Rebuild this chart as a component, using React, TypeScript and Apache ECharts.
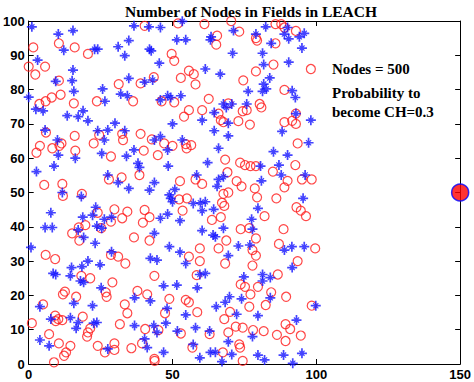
import React, { useEffect, useRef } from "react";
import * as echarts from "echarts";

const titleText = "Number of Nodes in Fields in LEACH";
const noteLines = ["Nodes = 500", "Probability to", "become CH=0.3"];
const xRange = [0, 150];
const yRange = [0, 100];
const xStep = 50;
const yStep = 10;

// blue asterisks
const headNodes: [number, number][] = [
  [1.1,98.3],[10.3,96.2],[15.4,97.2],[12.2,91.5],[3.1,88.6],[15.4,85.7],[9.4,82.4],[15.1,82.6],[15.7,79.5],[0,77.8],
  [2.5,74.3],[5,73.8],[18.9,73.8],[13.4,72.4],[17.2,72.1],[20.6,70.9],[5.7,68.2],[22.9,91.8],[24,91.8],[25.7,80.2],
  [26.5,76.6],[31.1,92.5],[33.4,89.9],[34.8,94.3],[34.8,83.3],[32,78.7],[34.3,78.2],[30,70.2],[24,68],[27.5,68.2],
  [33.4,68],[36.6,98.6],[41.8,98.3],[45.8,98.1],[42,91.8],[42.6,91.3],[45.4,87.7],[40.3,82.2],[43.1,82.8],[48.3,78.2],
  [49.4,77.7],[45.8,77],[50,70],
  [53.4,99.9],[51.5,94.5],[54.6,94.5],[63.4,95.4],[63.2,94.5],[71.2,97.2],[70.9,90.6],[61.4,86],[66.6,84.5],[79,96.2],
  [82.4,98.3],[81.3,90.6],[81.7,87.3],[84.3,93.5],[83.8,83.4],[81.7,81.6],[82.6,80.2],[81.3,79.5],[76.3,79.5],[88.9,96.2],
  [90,98.1],[90.4,94.8],[94.1,95.4],[95.8,96.4],[95,92.1],[90.4,88],[91.6,79.7],[92.7,77.7],[92.9,73],[98.1,71.1],
  [52.9,78.2],[60.3,71.1],[64.5,73.3],[67.7,75.8],[68.7,74.8],[70.6,75.8],[75.8,75.8],[69.4,70.2],[64.5,68],[88.1,67.8],
  [10,65.3],[10.3,60.9],[16.2,60],[8.8,57.7],[2.7,56.1],[26.3,65.3],[25.4,61.4],[34,60.6],[36.6,62.4],[38,58.5],
  [38.5,57.3],[27.5,55.1],[31.1,52.9],[34.8,51.2],[42,50.7],[43.7,52.9],[43.7,65.3],[45.8,66.3],[48.3,62.4],[48.5,57.7],
  [48.9,49.3],[49.4,48.3],[50,47.3],[11.7,50],[18.3,48.8],[7.7,44.1],[5.7,39.8],[8.2,39.8],[23.3,45.7],[22.2,43.4],
  [18.8,42.8],[26.3,42.2],[28.8,42.8],[23.7,40.2],[25.4,39.6],[19.1,36.9],[23.1,35.2],[17.2,39.1],[45.8,42.5],[48.3,43.7],
  [43.7,38.1],[48.9,34.2],[0.8,34],
  [69.4,66.5],[53.4,65.3],[66,62.9],[62.2,58.7],[58.4,55.1],[66,53.8],[67.7,54.6],[65.5,51.8],[50.8,50.9],[57.2,46.8],
  [59.7,47],[61.4,47.3],[60.3,44.7],[64.3,45.1],[52.6,41.8],[60.3,38.9],[64.1,37.6],[67.7,39.6],[64.9,37.1],[72.9,34.4],
  [77.5,42.2],[77.8,39.3],[79.7,45.4],[80.9,53.4],[80.6,57.7],[85.1,61.9],[90,60.9],[97.3,64.5],[87,58],[87.8,55.1],
  [96.1,55.1],[95.4,48.3],[91.5,34.2],[95.8,34.2],[76.9,34.7],
  [8.5,26.4],[9.4,26.1],[14.9,28.1],[14.5,25.7],[18.5,28.4],[20.6,30],[24.8,28.9],[18,24.2],[19.1,23.8],[25.2,22.2],
  [28.8,32.7],[3.9,16.7],[15.7,17.7],[22.2,17],[7.7,13.1],[14.5,13.5],[17.2,12.1],[16.5,10.4],[22.6,11.9],[23.7,12.1],
  [3.9,7],[7.1,5.3],[27.5,4.4],[36.8,19.3],[42.3,30.8],[44.6,30.3],[46.9,22.8],[42.3,18.4],[48.1,16.2],[47.7,11.9],
  [36.8,11.2],[43.5,11.2],[44.6,9.2],[40.3,7.3],[41.2,4.8],[46.9,3.4],
  [52.6,32.6],[54.6,29.3],[69.4,31.6],[88.9,33.2],[91.6,28.1],[51.5,23],[58.6,22.2],[59.5,26.1],[61.4,26.4],[74.8,25.4],
  [81.3,26.1],[84,25.2],[81.3,24.2],[74,19],[69.8,19.6],[68.3,18],[65.2,16.7],[54.6,14.3],[72.3,14.5],[79.7,14.1],
  [84,19.3],[93.1,12.8],[99.8,17],[58,10.6],[62.9,9.6],[51.7,9.6],[57.2,5.7],[69.4,6.5],[77.8,8],[63.2,3.4],
  [64.9,3.4],[59.5,1.8],[67.2,0.7],[70.6,2.8],[79.7,2.6],[82,1.2],[88.6,2.6],[95,3.1],[91.8,0.2],
];

// red circles
const normalNodes: [number, number][] = [
  [1.6,92.3],[10.5,93.5],[16,92.3],[20.6,90.4],[0,86.7],[5.7,86.7],[2.3,84.4],[10.5,82.6],[3.7,75.8],[5.9,76.6],
  [8,77.7],[11.1,78.5],[15.7,76],[23.7,76.6],[31.3,81.6],[36.3,76.6],[38.9,81.8],[43.5,83.6],[40.3,98.6],[49.7,90.4],
  [50.6,88.4],[46.2,76.6],[6,67.5],
  [51.9,99.3],[61.1,99.1],[70.4,100],[73.2,96.9],[65.5,95.7],[65.2,93.1],[79,95],[79.4,94.3],[85.8,99.1],[87.8,99.1],
  [88.9,98.1],[92.9,97.1],[85.8,93.5],[55.7,85.5],[57.4,84.5],[52.9,83.4],[58,81.5],[74.6,82.7],[79,85.3],[85.1,87.3],
  [98.1,86],[88.9,79.9],[50.6,76.3],[62.6,77.3],[55.7,74],[54,72.1],[60.3,74],[69.4,76],[66,73],[66.8,71.1],
  [67.7,70.5],[72.9,70.8],[74.4,73.7],[75.8,74],[80.3,75.8],[80.9,74.8],[76.9,69.8],[88.9,70.5],[91.6,70.9],[92.9,70],
  [92.9,73],
  [3.9,63.6],[2.7,61.6],[8.2,62.9],[10.7,63.6],[11.4,64.3],[16,66.5],[16.2,62.2],[22.6,64.3],[24.5,66.8],[28.6,60.5],
  [32.5,67.1],[32.8,65.3],[38.9,67.1],[40,62.2],[42.8,65.5],[44.9,60.9],[47.1,64.3],[50,63.6],[5.4,52.2],[11.7,52.5],
  [11.9,49],[18.5,49.6],[27.9,53.8],[32.3,54.4],[38.5,55.1],[24,44.1],[29.8,45.1],[34.3,44.4],[32.5,42.5],[40.3,44.9],
  [42,42.8],[39.7,41.2],[28.6,41.5],[19.7,40.5],[17.4,39.8],[25.2,39.6],[15.1,38.1],[17.6,36],[36.6,36.9],[42,36],
  [54.6,64.1],[56.5,63.8],[54.9,62.9],[68.3,59.6],[73.5,58.7],[75.2,58],[77.1,57.7],[79,57.7],[69.1,55.9],[58,53.8],
  [60.3,52.5],[72.3,53.3],[74,51.8],[78.6,51.2],[79.4,48.6],[52.6,53.3],[52.3,48],[55,48.3],[53.5,44.7],[67.7,49.6],
  [69.4,50],[67.2,47],[68,46.1],[63.7,42],[66.8,42.8],[73.7,39.3],[76.7,39.6],[79,36.6],[82,43.1],[68.7,36],
  [86.1,48.3],[84.9,56.1],[90,53.4],[88.9,51.5],[95,53.8],[98.4,53.8],[93.5,64.3],[92.7,58],[93.1,45.7],[94.6,44.7],
  [96.4,43.1],[88.6,39.3],[87,35],[59.5,33.7],[66,33.7],[99.6,33.7],
  [5.9,31.8],[9.2,30.6],[28.6,31.8],[31.1,31.3],[33.6,29.3],[18.3,25.7],[21.4,25],[29.1,23.8],[43.7,25.7],[12.6,21.1],
  [11.9,20.3],[16.5,19.6],[26.8,20.9],[27.1,19.6],[37.8,21.3],[41.2,20.3],[48.9,19],[5,17.4],[33.4,17.4],[34.3,14.8],
  [47.4,14.8],[9.2,14.1],[10.3,13.1],[11.7,12.8],[9.4,12.5],[18.8,13.8],[1.1,11.9],[31.7,11.6],[21.4,10.4],[20.6,9.2],
  [20.3,8],[7.1,8.7],[10.5,6],[14.5,5.3],[13,3.4],[12.3,2.4],[8.8,0.5],[24,5.3],[26.5,3.4],[29.8,6],
  [29.8,4.1],[35.7,4.6],[39.4,6],[40.5,10.2],[45.1,9.9],[43.7,1.5],[43.8,0.9],
  [55.7,31.3],[59.5,30],[68.3,29.3],[77.8,33.2],[79,31.6],[77.8,28.7],[93.5,30],[58.4,25.9],[86.6,26.1],[73.7,23.2],
  [75.2,22.5],[79.7,22.5],[77.1,20.3],[84.3,20.9],[89.5,19.6],[54.6,18.7],[55.7,18],[58.6,15.1],[76.7,16.7],[82.4,17.2],
  [98.4,17],[68,13.1],[70,15.2],[72,10.9],[74.4,10.6],[69.4,9.2],[78,9.9],[81.7,9.6],[89.3,11.6],[90.9,10.2],
  [86.3,8.5],[89.3,6.7],[94.6,8.3],[52.9,8.9],[62.9,8.7],[56.9,4.8],[73.2,5.7],[73.5,4.8],[67.5,3.4],[74.4,0.9],
];

const sinkNode: [number, number][] = [[150, 50]];

const STAR =
  "path://M-1.7,-10 L1.7,-10 L1.7,-1.7 L10,-1.7 L10,1.7 L1.7,1.7 L1.7,10 L-1.7,10 L-1.7,1.7 L-10,1.7 L-10,-1.7 L-1.7,-1.7 Z " +
  "M-6,-4.4 L-4.4,-6 L0,-1.6 L4.4,-6 L6,-4.4 L1.6,0 L6,4.4 L4.4,6 L0,1.6 L-4.4,6 L-6,4.4 L-1.6,0 Z";

export default function App() {
  const ref = useRef<HTMLDivElement>(null);
  useEffect(() => {
    if (!ref.current) return;
    const chart = echarts.init(ref.current, undefined, { renderer: "svg" });
    const axisLine = { show: true, onZero: false, lineStyle: { color: "#000", width: 1 } };
    const axisTick = { show: true, inside: true, length: 5, lineStyle: { color: "#000", width: 1 } };
    const label = {
      color: "#000",
      fontWeight: "bold" as const,
      fontSize: 13,
      fontFamily: "Liberation Sans, Arial, sans-serif",
    };
    const serif = "Liberation Serif, Times New Roman, serif";
    chart.setOption({
      animation: false,
      backgroundColor: "#fff",
      title: {
        text: titleText,
        left: 120,
        top: -2,
        textStyle: { fontFamily: serif, fontWeight: "bold", fontSize: 15.5, color: "#000" },
      },
      grid: { left: 26, right: 11, top: 21, bottom: 18, containLabel: false },
      xAxis: [
        {
          type: "value", min: xRange[0], max: xRange[1], interval: xStep,
          axisLine, axisTick, splitLine: { show: false },
          axisLabel: { ...label, margin: 4 },
        },
        {
          type: "value", position: "top", min: xRange[0], max: xRange[1], interval: xStep,
          axisLine, axisTick, splitLine: { show: false }, axisLabel: { show: false },
        },
      ],
      yAxis: [
        {
          type: "value", min: yRange[0], max: yRange[1], interval: yStep,
          axisLine, axisTick, splitLine: { show: false },
          axisLabel: { ...label, margin: 4 },
        },
        {
          type: "value", position: "right", min: yRange[0], max: yRange[1], interval: yStep,
          axisLine, axisTick, splitLine: { show: false }, axisLabel: { show: false },
        },
      ],
      graphic: noteLines.map((t, i) => ({
        type: "text",
        left: 332,
        top: [61, 85, 104][i],
        style: { text: t, font: `bold 15px ${serif}`, fill: "#000" },
      })),
      series: [
        {
          type: "scatter", data: normalNodes, clip: false,
          symbol: "circle", symbolSize: 9,
          itemStyle: { color: "rgba(255,255,255,0)", borderColor: "#ff1a1a", borderWidth: 1.2 },
        },
        {
          type: "scatter", data: headNodes, clip: false,
          symbol: STAR, symbolSize: 10,
          itemStyle: { color: "#1414ff" },
        },
        {
          type: "scatter", data: sinkNode, clip: false,
          symbol: "circle", symbolSize: 17,
          itemStyle: { color: "#ff0000", borderColor: "#0000ff", borderWidth: 1.5 },
        },
      ],
    });
    return () => chart.dispose();
  }, []);
  return (
    <div
      ref={ref}
      style={{ position: "fixed", left: 0, top: 0, width: 474, height: 382, background: "#fff" }}
    />
  );
}
